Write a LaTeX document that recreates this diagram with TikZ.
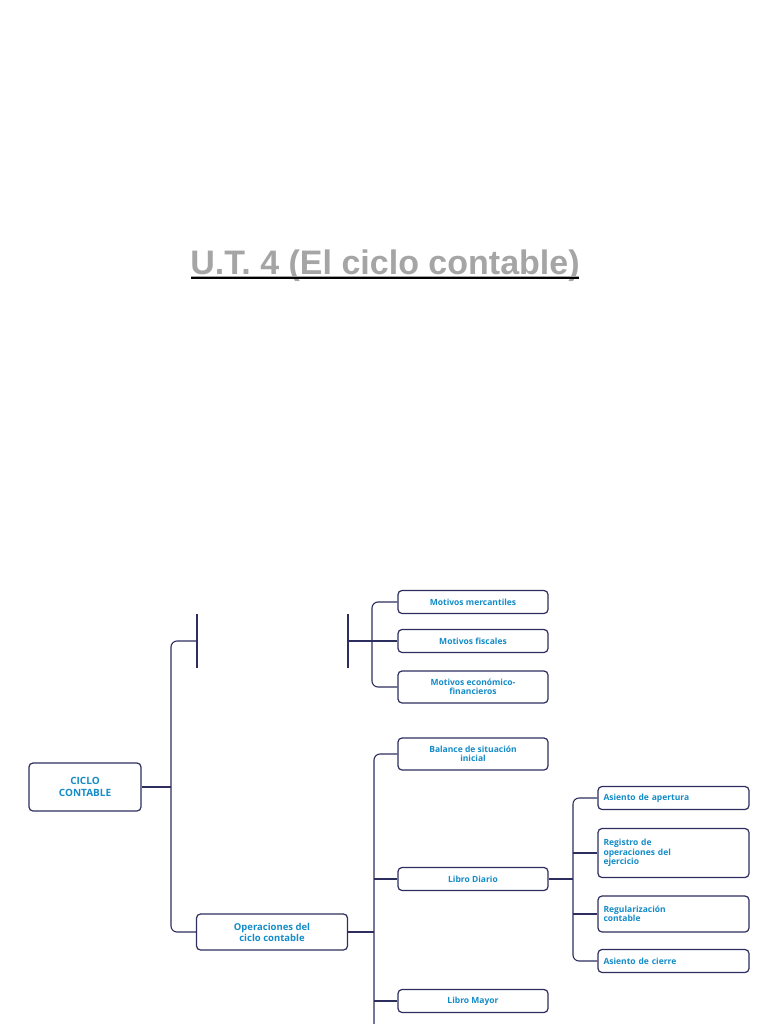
\documentclass[tikz,border=0pt]{standalone}
\usepackage{fontspec}
\setmainfont{Liberation Sans}
\newfontfamily\boxfont{Open Sans}
\definecolor{navy}{RGB}{45,45,95}
\definecolor{txtblue}{RGB}{20,140,200}
\definecolor{titlegray}{RGB}{165,165,165}
\begin{document}
\begin{tikzpicture}[x=1pt,y=-1pt,
  bx/.style={draw=navy,line width=1.2pt,rounded corners=4pt,fill=white,
    minimum width=150pt,align=center,inner sep=1pt,
    font=\boxfont\fontsize{8.5}{9.5}\selectfont\bfseries,text=txtblue},
  ln/.style={draw=navy,line width=1.1pt,rounded corners=6pt}]
\useasboundingbox (0,0) rectangle (768,1024);
\node[font=\fontsize{34}{40}\selectfont\bfseries,text=titlegray,anchor=base] (title) at (385,274) {U.T. 4 (El ciclo contable)};
\draw[line width=1.6pt,black] (191,278) -- (579,278);
\draw[line width=0.8pt,titlegray] (191,276.3) -- (579,276.3);
% nodes
\node[bx,minimum width=112pt,minimum height=48pt,font=\boxfont\fontsize{10}{12}\selectfont\bfseries] (ciclo) at (85,787) {CICLO\\CONTABLE};
\coordinate (blank) at (272,641);
\node[bx,minimum width=151pt,minimum height=36pt,font=\boxfont\fontsize{9.5}{11}\selectfont\bfseries] (oper) at (272,932) {Operaciones del\\ciclo contable};
\node[bx,minimum height=23pt] (m1) at (473,602) {Motivos mercantiles};
\node[bx,minimum height=23pt] (m2) at (473,641) {Motivos fiscales};
\node[bx,minimum height=32pt] (m3) at (473,687) {Motivos económico-\\financieros};
\node[bx,minimum height=32pt] (bal) at (473,754) {Balance de situación\\inicial};
\node[bx,minimum height=23pt] (diario) at (473,879) {Libro Diario};
\node[bx,minimum height=23pt] (mayor) at (473,1001) {Libro Mayor};
\tikzset{bx3/.style={bx,minimum width=151pt,align=left,text width=140pt}}
\node[bx3,minimum height=23pt] (a1) at (673.5,798) {Asiento de apertura};
\node[bx3,minimum height=49pt] (a2) at (673.5,853) {Registro de\\operaciones del\\ejercicio};
\node[bx3,minimum height=36pt] (a3) at (673.5,914) {Regularización\\contable};
\node[bx3,minimum height=23pt] (a4) at (673.5,961) {Asiento de cierre};
% blank box sides
\draw[navy,line width=1.1pt] (197,614) -- (197,668) (348,614) -- (348,668);
% connectors
\draw[ln] (ciclo.east) -- (171,787);
\draw[ln] (197,641) -| (171,787) |- (oper.west);
\draw[ln] (348,641) -- (m2.west);
\draw[ln] (m1.west) -| (372,641) |- (m3.west);
\draw[ln] (oper.east) -- (374,932);
\draw[ln] (bal.west) -| (374,1024);
\draw[ln] (374,879) -- (diario.west);
\draw[ln] (374,1001) -- (mayor.west);
\draw[ln] (diario.east) -- (573,879);
\draw[ln] (a1.west) -| (573,879) |- (a4.west);
\draw[ln] (573,853) -- (a2.west);
\draw[ln] (573,914) -- (a3.west);
\end{tikzpicture}
\end{document}
